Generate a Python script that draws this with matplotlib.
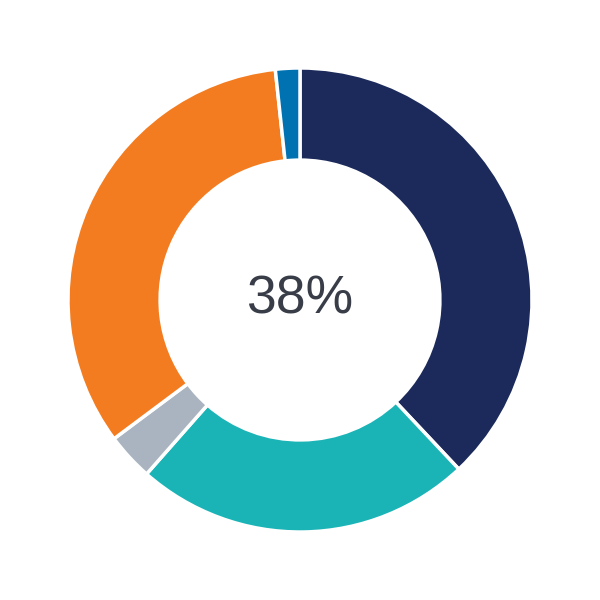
import matplotlib
matplotlib.use("Agg")
from matplotlib import pyplot as plt

# segment values (percent), clockwise from 12 o'clock
labels = ["Navy", "Teal", "Gray", "Orange", "Blue"]
values = [38.0, 23.5, 3.3, 33.5, 1.7]
colors = ["#1b2a5b", "#1ab4b7", "#a9b4c0", "#f47c20", "#0072b1"]
center_text = "38%"

fig = plt.figure(figsize=(6, 6), dpi=100)
ax = fig.add_axes([0, 0, 1, 1])

ax.pie(values, colors=colors, startangle=90, counterclock=False,
       radius=1.0,
       wedgeprops=dict(width=0.397, edgecolor="white", linewidth=2.5))

ax.text(0, 0, center_text, ha="center", va="center", fontsize=38.5,
        color="#383d48", family=["Liberation Sans", "DejaVu Sans"])

ax.set_xlim(-1.293, 1.293)
ax.set_ylim(-1.293, 1.293)
ax.set_aspect("equal")
ax.axis("off")

fig.savefig("out.png", dpi=100, facecolor="white")
